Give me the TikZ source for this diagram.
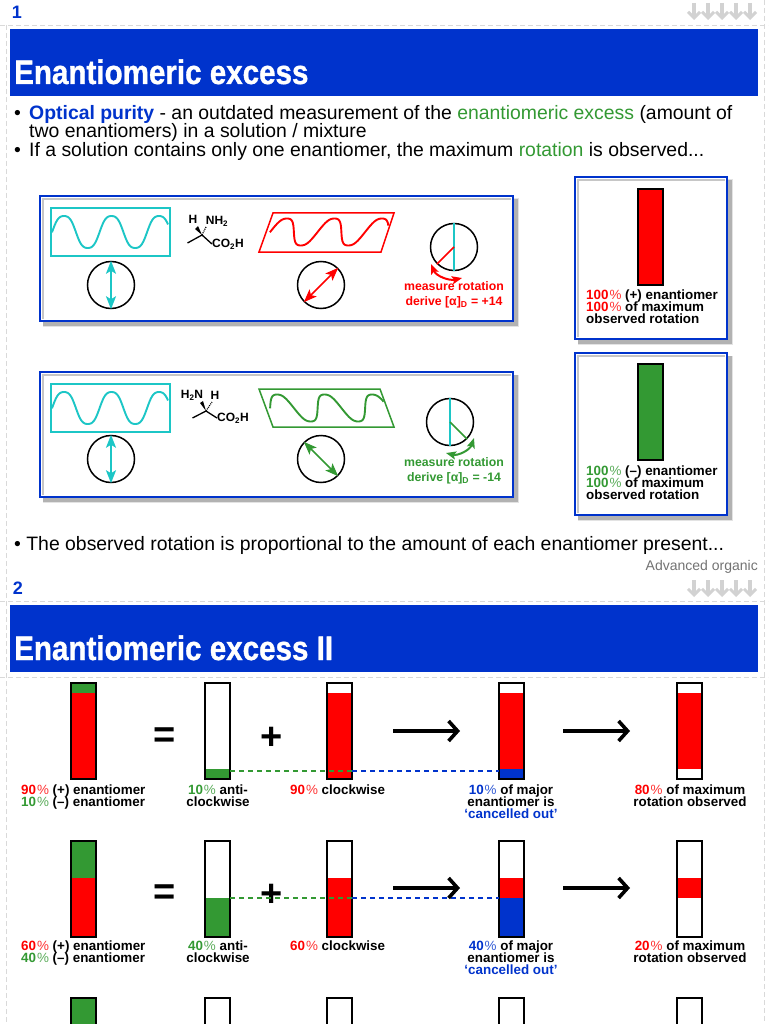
\documentclass[tikz,border=0pt]{standalone}
\usepackage{fontspec}
\setmainfont{Liberation Sans}
\newfontfamily\headfont[BoldFeatures={FakeStretch=0.87,FakeBold=1}]{Liberation Sans}
\usetikzlibrary{arrows.meta}
\setlength{\lineskiplimit}{-20pt}
\definecolor{myblue}{HTML}{0033CC}
\definecolor{myred}{HTML}{FF0000}
\definecolor{mygreen}{HTML}{339933}
\definecolor{myteal}{HTML}{1CC6C6}
\newcommand{\pct}[2]{{\color{#1}#2\hspace{1pt}{\mdseries\color{#1!80}\%}}}
\newcommand{\dotmark}{\makebox[15pt][l]{•}}
% one wave: start x, centre y, slant, height, colour
\newcommand{\wavy}[5]{\draw[#5,line width=1.9pt,line join=round] plot[domain=0:116,samples=90]
  ({#1+\x+#3*#4*(1.08*cos(7.579*(\x-12))-0.08*cos(22.737*(\x-12)))},
   {#2-#4*(1.08*cos(7.579*(\x-12))-0.08*cos(22.737*(\x-12)))});}
\newcommand{\panel}[5]{%
  \draw[gray!22,line width=3pt] ({#2+4},{#3+4}) rectangle ({#4+4},{#5+4});
  \draw[gray!60,fill=gray!60,line width=1.5pt] ({#2+4},{#3+4}) rectangle ({#4+4},{#5+4});
  \node (#1) [panelbox,minimum width={(#4-#2)*1pt},minimum height={(#5-#3)*1pt}] at ({(#2+#4)/2},{(#3+#5)/2}) {};
  \draw[gray!45,line width=2pt] ({#2+3},{#5-2}) -- ({#2+3},{#3+3}) -- ({#4-2},{#3+3});
  \draw[myblue,line width=2.7pt] ({#2},{#3}) rectangle ({#4},{#5});}
\newcommand{\barframe}[3]{\node (#1) [barbox] at ({#2+12.5},{#3+48}) {};}
\newcommand{\downs}[1]{\foreach \i in {0,...,4}
  \draw[gray!35,line width=3.4pt,-{Straight Barb[length=6pt,width=12pt,line width=3pt]}] ({694+14*\i},{#1}) -- ({694+14*\i},{#1+17});}
\tikzset{
  panelbox/.style={draw=none,fill=white,inner sep=0pt},
  barbox/.style={draw=black,line width=1.4pt,minimum width=25pt,minimum height=96pt,inner sep=0pt},
  wheel/.style={circle,draw=black,line width=1.5pt,minimum size=47pt,inner sep=0pt},
  dblarrow/.style={line width=1.7pt,{Stealth[length=13pt,width=10pt,inset=3pt]}-{Stealth[length=13pt,width=10pt,inset=3pt]}},
  turn/.style={line width=2pt,{Stealth[length=10pt,width=8pt,inset=2pt]}-{Stealth[length=10pt,width=8pt,inset=2pt]}},
  bigarrow/.style={line width=3.6pt,-{Straight Barb[length=9pt,width=20pt,line width=3.6pt]}},
  lbl/.style={inner sep=0pt,align=left,font=\fontsize{13.4}{11.8}\selectfont\bfseries},
  clbl/.style={lbl,align=center,anchor=north},
  note/.style={clbl,font=\fontsize{12.3}{11.8}\selectfont\bfseries},
  body/.style={inner sep=0pt,anchor=base west,font=\fontsize{19.4}{20}\selectfont},
  title/.style={inner sep=0pt,anchor=base west,text=white,font=\headfont\fontsize{34}{34}\selectfont\bfseries},
  chem/.style={inner sep=0pt,font=\fontsize{12}{12}\selectfont\bfseries},
  sign/.style={inner sep=0pt,font=\fontsize{38}{38}\selectfont\bfseries},
  slidenum/.style={inner sep=0pt,text=myblue,font=\fontsize{18}{18}\selectfont\bfseries},
  rim/.style={gray!30,line width=0.6pt,dash pattern=on 5pt off 3pt},
  cutline/.style={line width=1.2pt,dash pattern=on 5pt off 4pt}
}
\begin{document}
\begin{tikzpicture}[x=1pt,y=-1pt]
  \useasboundingbox (0,0) rectangle (768,1024);
  \fill[white] (0,0) rectangle (768,1024);
  % slide edges
  \draw[rim] (0,25)--(768,25);
  \draw[rim] (0,601)--(768,601);
  \draw[rim] (0,677)--(768,677);
  \draw[rim] (6,25)--(6,1024);
  \draw[rim] (764,0)--(764,1024);
  % first slide
  \node (numA) [slidenum] at (17,12) {1};
  \downs{3}
  \fill[myblue] (10,29) rectangle (758,96);
  \node (titleA) [title] at (14,84) {Enantiomeric excess};
  \node (lineA) [body] at (14,120) {\dotmark{\color{myblue}\bfseries Optical purity} - an outdated measurement of the {\color{mygreen}enantiomeric excess} (amount of};
  \node (lineB) [body] at (29,138) {two enantiomers) in a solution / mixture};
  \node (lineC) [body] at (14,157) {\dotmark If a solution contains only one enantiomer, the maximum {\color{mygreen}rotation} is observed...};
  % top panel
  \panel{panA}{40}{196}{513}{321}
  \draw[myteal,line width=1.5pt] (51,208) rectangle (170,256);
  \wavy{52}{232}{0}{16}{myteal}
  \node (wheelA) [wheel] at (111,285) {};
  \draw[dblarrow,myteal] (wheelA.north) -- (wheelA.south);
  \node (hA) [chem] at (193,219) {H};
  \node (aminA) [chem] at (217,221) {NH\textsubscript{2}};
  \node (acidA) [chem] at (228,244) {CO\textsubscript{2}H};
  \coordinate (midA) at (202,235);
  \draw[line width=1.3pt] (187.5,243) -- (midA) -- (acidA.west);
  \fill (midA) -- (195,229) -- (198,226) -- cycle;
  \draw[line width=1.2pt,dash pattern=on 1pt off 1pt] (midA) -- (206,227);
  \draw[myred,line width=1.5pt] (259,252) -- (273,213) -- (394,213) -- (381,252) -- cycle;
  \wavy{270}{232}{0.37}{13.5}{myred}
  \node (wheelB) [wheel] at (321,285) {};
  \draw[dblarrow,myred] (wheelB.225) -- (wheelB.45);
  \node (wheelC) [wheel] at (454,247) {};
  \draw[myteal,line width=1.5pt] (wheelC.north) -- (wheelC.south);
  \draw[myred,line width=1.5pt] (wheelC.center) -- (wheelC.225);
  \coordinate (turnA) at (431,264);
  \coordinate (turnB) at (462,278);
  \draw[turn,myred] (turnA) .. controls (436,276) and (449,281) .. (turnB);
  \node (noteA) [note,text=myred] at (454,281) {measure rotation\\[4pt]derive [α]\textsubscript{D} = +14};
  % lower panel
  \panel{panB}{40}{372}{513}{497}
  \draw[myteal,line width=1.5pt] (51,384) rectangle (170,432);
  \wavy{52}{408}{0}{16}{myteal}
  \node (wheelD) [wheel] at (111,459) {};
  \draw[dblarrow,myteal] (wheelD.north) -- (wheelD.south);
  \node (hB) [chem] at (192,395) {H\textsubscript{2}N};
  \node (hC) [chem] at (215,395) {H};
  \node (acidB) [chem] at (233,418) {CO\textsubscript{2}H};
  \coordinate (midB) at (206,411);
  \draw[line width=1.3pt] (192.5,418) -- (midB) -- (acidB.west);
  \fill (midB) -- (200,403) -- (203,401) -- cycle;
  \draw[line width=1.2pt,dash pattern=on 1pt off 1pt] (midB) -- (212,402);
  \draw[mygreen,line width=1.5pt] (259,389) -- (380,389) -- (394,427) -- (273,427) -- cycle;
  \wavy{270}{408}{-0.37}{13.5}{mygreen}
  \node (wheelE) [wheel] at (321,459) {};
  \draw[dblarrow,mygreen] (wheelE.135) -- (wheelE.315);
  \node (wheelF) [wheel] at (450,422) {};
  \draw[myteal,line width=1.5pt] (wheelF.north) -- (wheelF.south);
  \draw[mygreen,line width=1.5pt] (wheelF.center) -- (wheelF.315);
  \coordinate (turnC) at (446,453);
  \coordinate (turnD) at (474,438);
  \draw[turn,mygreen] (turnC) .. controls (458,456) and (470,450) .. (turnD);
  \node (noteB) [note,text=mygreen] at (454,457) {measure rotation\\[4pt]derive [α]\textsubscript{D} = -14};
  % right panels
  \panel{panC}{575}{177}{727}{339}
  \fill[myred] (638,189) rectangle (663,286);
  \barframe{barP}{638}{189}
  \node (textP) [lbl,anchor=north west] at (586,290) {\pct{myred}{100} (+) enantiomer\\\pct{myred}{100} of maximum\\observed rotation};
  \panel{panD}{575}{353}{727}{515}
  \fill[mygreen] (638,364) rectangle (663,461);
  \barframe{barM}{638}{364}
  \node (textM) [lbl,anchor=north west] at (586,466) {\pct{mygreen}{100} (–) enantiomer\\\pct{mygreen}{100} of maximum\\observed rotation};
  \node (lineD) [body] at (14,550) {• The observed rotation is proportional to the amount of each enantiomer present...};
  \node (brand) [inner sep=0pt,anchor=base east,text=black!55,font=\fontsize{14}{14}\selectfont] at (758,570) {Advanced organic};
  % second slide
  \node (numB) [slidenum] at (18,588) {2};
  \downs{580}
  \fill[myblue] (10,605) rectangle (758,672);
  \node (titleB) [title] at (14,660) {Enantiomeric excess II};
  % row 90/10
  \fill[myred] (71,693) rectangle (96,779);
  \fill[mygreen] (71,683) rectangle (96,693);
  \barframe{barA}{71}{683}
  \node (signA) [sign] at (165,738) {=};
  \fill[mygreen] (205,769) rectangle (230,779);
  \barframe{barB}{205}{683}
  \node (signB) [sign] at (272,738) {+};
  \fill[myred] (327,693) rectangle (352,779);
  \barframe{barC}{327}{683}
  \fill[myred] (499,693) rectangle (524,769);
  \fill[myblue] (499,769) rectangle (524,779);
  \barframe{barD}{499}{683}
  \fill[myred] (677,693) rectangle (702,769);
  \barframe{barE}{677}{683}
  \coordinate (cutA) at (230,771);
  \coordinate (cutB) at (352,771);
  \coordinate (cutC) at (499,771);
  \draw[cutline,mygreen] (cutA) -- (cutB);
  \draw[cutline,myblue] (cutB) -- (cutC);
  \coordinate (goA) at (393,731);
  \coordinate (goB) at (460,731);
  \coordinate (goC) at (563,731);
  \coordinate (goD) at (630,731);
  \draw[bigarrow] (goA) -- (goB);
  \draw[bigarrow] (goC) -- (goD);
  \node (labA) [lbl,anchor=north west] at (21,785) {\pct{myred}{90} (+) enantiomer\\\pct{mygreen}{10} (–) enantiomer};
  \node (labB) [clbl] at (218,785) {\pct{mygreen}{10} anti-\\clockwise};
  \node (labC) [lbl,anchor=north west] at (290,785) {\pct{myred}{90} clockwise};
  \node (labD) [clbl] at (511,785) {\pct{myblue}{10} of major\\enantiomer is\\{\color{myblue}‘cancelled out’}};
  \node (labE) [clbl] at (690,785) {\pct{myred}{80} of maximum\\rotation observed};
  % row 60/40
  \fill[myred] (71,878) rectangle (96,937);
  \fill[mygreen] (71,841) rectangle (96,878);
  \barframe{barF}{71}{841}
  \node (signC) [sign] at (165,895) {=};
  \fill[mygreen] (205,898) rectangle (230,937);
  \barframe{barG}{205}{841}
  \node (signD) [sign] at (272,895) {+};
  \fill[myred] (327,878) rectangle (352,937);
  \barframe{barH}{327}{841}
  \fill[myred] (499,878) rectangle (524,898);
  \fill[myblue] (499,898) rectangle (524,937);
  \barframe{barI}{499}{841}
  \fill[myred] (677,878) rectangle (702,898);
  \barframe{barJ}{677}{841}
  \coordinate (cutD) at (230,898);
  \coordinate (cutE) at (352,898);
  \coordinate (cutF) at (499,898);
  \draw[cutline,mygreen] (cutD) -- (cutE);
  \draw[cutline,myblue] (cutE) -- (cutF);
  \coordinate (goE) at (393,888);
  \coordinate (goF) at (460,888);
  \coordinate (goG) at (563,888);
  \coordinate (goH) at (630,888);
  \draw[bigarrow] (goE) -- (goF);
  \draw[bigarrow] (goG) -- (goH);
  \node (labF) [lbl,anchor=north west] at (21,941) {\pct{myred}{60} (+) enantiomer\\\pct{mygreen}{40} (–) enantiomer};
  \node (labG) [clbl] at (218,941) {\pct{mygreen}{40} anti-\\clockwise};
  \node (labH) [lbl,anchor=north west] at (290,941) {\pct{myred}{60} clockwise};
  \node (labI) [clbl] at (511,941) {\pct{myblue}{40} of major\\enantiomer is\\{\color{myblue}‘cancelled out’}};
  \node (labJ) [clbl] at (690,941) {\pct{myred}{20} of maximum\\rotation observed};
  % row cut off by the page
  \fill[mygreen] (71,998) rectangle (96,1024);
  \barframe{barK}{71}{998}
  \barframe{barL}{205}{998}
  \barframe{barN}{327}{998}
  \barframe{barO}{499}{998}
  \barframe{barQ}{677}{998}
\end{tikzpicture}
\end{document}
